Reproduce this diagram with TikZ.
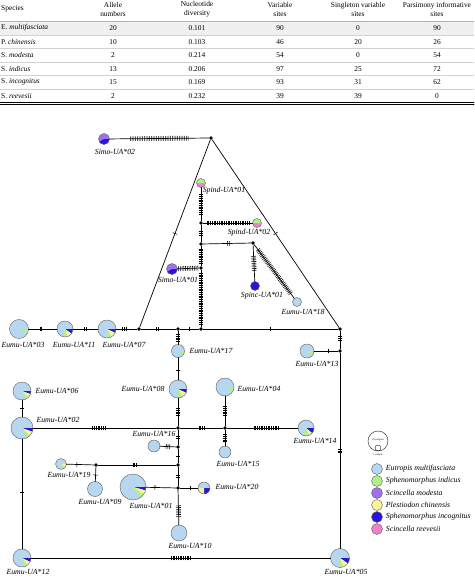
\documentclass[tikz,border=0pt]{standalone}
\usepackage{fontspec}
\setmainfont{Liberation Serif}
\usetikzlibrary{positioning}
\definecolor{eumu}{RGB}{183,214,240}
\definecolor{sind}{RGB}{178,240,138}
\definecolor{mode}{RGB}{160,112,240}
\definecolor{ples}{RGB}{250,245,150}
\definecolor{inco}{RGB}{40,22,220}
\definecolor{reev}{RGB}{240,130,200}
% row of mutation ticks
\newcommand{\tickrow}[1]{\rule[-2.4pt]{.55pt}{4.8pt}\ifnum#1>1 \foreach \k in {2,...,#1}{\hspace{1.2pt}\rule[-2.4pt]{.55pt}{4.8pt}}\fi}
% haplotype pie: name, centre, radius, slices
\newcommand{\hap}[4]{%
  \foreach \a/\b/\c in {#4}
    {\fill[\c] (#2) -- ++(\a:#3) arc[start angle=\a, end angle=\b, radius=#3] -- cycle;}
  \node[hapc, minimum size=2*#3] (#1) at (#2) {};
}
\begin{document}
\begin{tikzpicture}[x=1pt,y=-1pt,line cap=round,line join=round,
  ln/.style={line width=.7pt},
  jn/.style={circle,fill=black,inner sep=0,minimum size=3.8pt},
  hapc/.style={circle,draw=black!60,line width=.45pt,inner sep=0,outer sep=0},
  mt/.style={sloped,inner sep=0,outer sep=0,pos=.5},
  lab/.style={font=\fontsize{7.8}{9}\selectfont\itshape,inner sep=0},
  th/.style={font=\fontsize{7.4}{9}\selectfont,align=center,inner sep=0},
  td/.style={font=\fontsize{7.4}{9}\selectfont,inner sep=0},
  legc/.style={circle,draw=black!60,line width=.45pt,inner sep=0,minimum size=11pt},
  legt/.style={font=\fontsize{7.8}{9}\selectfont\itshape,inner sep=0}]
\useasboundingbox (0,0) rectangle (474,578);

% table
\fill[gray!12] (0,21) rectangle (474,35);
\draw[gray!60,line width=.3pt] (0,21) -- (474,21);
\foreach \y in {35,48.5,62,75.5,89}
  \draw[gray!35,line width=.3pt] (0,\y) -- (474,\y);
\draw[line width=.5pt] (0,102) -- (474,102);
\draw[line width=.5pt] (0,104.5) -- (474,104.5);
\node[th,anchor=west] (hsp) at (1,9) {Species};
\node[th] (hal) at (113,9.5) {Allele\\numbers};
\node[th] (hnd) at (197,9.5) {Nucleotide\\diversity};
\node[th] (hvs) at (280,9.5) {Variable\\sites};
\node[th] (hsv) at (358,9.5) {Singleton variable\\sites};
\node[th] (hpi) at (437,9.5) {Parsimony informative\\sites};
\foreach \ry/\rg/\rn/\ra/\rd/\rv/\rs/\rp [count=\i] in
  {28/E./multifasciata/20/0.101/90/0/90,
   42/P./chinensis/10/0.103/46/20/26,
   55/S./modesta/2/0.214/54/0/54,
   69/S./indicus/13/0.206/97/25/72,
   82/S./incognitus/15/0.169/93/31/62,
   96/S./reevesii/2/0.232/39/39/0}
{
  \node[td,anchor=west] (sp\i) at (1,\ry) {\rg~\textit{\rn}};
  \node[td] (al\i) at (113,\ry) {\ra};
  \node[td] (nd\i) at (197,\ry) {\rd};
  \node[td] (vs\i) at (280,\ry) {\rv};
  \node[td] (sv\i) at (358,\ry) {\rs};
  \node[td] (pi\i) at (437,\ry) {\rp};
}

% haplotypes
\hap{s02}{104,139}{5.5}{0/360/mode,0/150/inco}
\hap{sp1}{201,183}{4.5}{0/180/reev,180/360/sind}
\hap{sp2}{257,223}{4.5}{0/180/reev,180/360/sind}
\hap{spc}{255,286}{4.5}{0/360/inco}
\hap{e18}{297,302}{4.5}{0/360/eumu}
\hap{s01}{172,269}{5.5}{0/360/mode,0/150/inco}
\hap{e03}{19,329}{9.5}{0/360/eumu,0/30/sind}
\hap{e11}{65,329}{8}{0/360/eumu,0/35/inco,35/75/ples,75/105/sind}
\hap{e07}{107,329}{9}{0/360/eumu,0/25/inco,25/60/ples,60/90/sind}
\hap{e17}{178,351}{6.5}{0/360/eumu,0/40/sind}
\hap{e08}{178,389}{9}{0/360/eumu,0/25/inco,25/60/ples,60/95/sind}
\hap{e06}{22,391}{9}{0/360/eumu,0/20/inco,20/45/ples,45/70/sind}
\hap{e02}{22,428}{11}{0/360/eumu,0/20/inco,20/45/ples,45/65/sind}
\hap{e04}{225,387}{9}{0/360/eumu,0/30/sind}
\hap{e16}{154,446}{6}{0/360/eumu}
\hap{e15}{225,452}{6}{0/360/eumu}
\hap{e14}{306,428}{8}{0/360/eumu,0/40/inco,40/70/ples,70/110/sind}
\hap{e13}{307,351}{7}{0/360/eumu,0/40/sind}
\hap{e19}{61,464}{5.5}{0/360/eumu,0/40/ples,40/70/sind}
\hap{e09}{95,489}{7.5}{0/360/eumu}
\hap{e01}{133,487}{13}{0/360/eumu,0/15/inco,15/35/ples,35/55/sind}
\hap{e20}{204,488}{6}{0/360/eumu,0/90/inco,90/180/ples}
\hap{e10}{179,533}{8}{0/360/eumu}
\hap{e12}{22,558}{9}{0/360/eumu,0/25/inco,25/55/ples,55/80/sind}
\hap{e05}{340,558}{9.5}{0/360/eumu,0/35/inco,35/70/ples,70/100/sind}

% median vectors
\node[jn] (t1) at (211,138) {};
\node[jn] (j1) at (201,223) {};
\node[jn] (j2) at (201,244) {};
\node[jn] (j3) at (253,243) {};
\node[jn] (j4) at (201,268) {};
\node[jn] (j5) at (201,329) {};
\node[jn] (j7) at (139,329) {};
\node[jn] (j8) at (178,329) {};
\node[jn] (r1) at (340,329) {};
\node[jn] (j15) at (340,351) {};
\node[jn] (j9) at (178,428) {};
\node[jn] (j10) at (225,428) {};
\node[jn] (j11) at (178,447) {};
\node[jn] (j12) at (178,465) {};
\node[jn] (j13) at (96,465) {};
\node[jn] (j14) at (178,488) {};

% links
\draw[ln] (s02) -- node[mt]{\tickrow{34}} (t1);
\draw[ln] (t1) -- node[mt]{\tickrow{1}} (j7);
\draw[ln] (t1) -- node[mt]{\tickrow{1}} (r1);
\draw[ln] (sp1) -- node[mt]{\tickrow{12}} (j1);
\draw[ln] (j1) -- node[mt]{\tickrow{25}} (sp2);
\draw[ln] (j1) -- node[mt]{\tickrow{3}} (j2);
\draw[ln] (j2) -- node[mt,pos=.53]{\tickrow{2}} (j3);
\draw[ln] (j3) -- node[mt]{\tickrow{9}} (spc);
\draw[ln] (j3) -- node[mt]{\tickrow{32}} (e18);
\draw[ln] (j2) -- node[mt]{\tickrow{9}} (j4);
\draw[ln] (s01) -- node[mt]{\tickrow{12}} (j4);
\draw[ln] (j4) -- node[mt]{\tickrow{30}} (j5);
\draw[ln] (e03) -- node[mt,pos=.43]{\tickrow{2}} (e11);
\draw[ln] (e11) -- node[mt,pos=.48]{\tickrow{2}} (e07);
\draw[ln] (e07) -- node[mt,pos=.4]{\tickrow{3}} (j7);
\draw[ln] (j7) -- node[mt,pos=.46]{\tickrow{2}} (j8);
\draw[ln] (j8) -- node[mt]{\tickrow{1}} (j5);
\draw[ln] (j5) -- node[mt]{\tickrow{1}} (r1);
\draw[ln] (j8) -- node[mt]{\tickrow{5}} (e17);
\draw[ln] (e17) -- node[mt,pos=.55]{\tickrow{1}} (e08);
\draw[ln] (e08) -- node[mt]{\tickrow{5}} (j9);
\draw[ln] (j9) -- node[mt,pos=.54]{\tickrow{8}} (e02);
\draw[ln] (e06) -- node[mt]{\tickrow{1}} (e02);
\draw[ln] (j9) -- node[mt]{\tickrow{4}} (j10);
\draw[ln] (j10) -- node[mt]{\tickrow{6}} (e04);
\draw[ln] (j10) -- node[mt]{\tickrow{5}} (e15);
\draw[ln] (j10) -- node[mt,pos=.55]{\tickrow{15}} (e14);
\draw[ln] (j9) -- node[mt]{\tickrow{2}} (j11);
\draw[ln] (e16) -- node[mt]{\tickrow{3}} (j11);
\draw[ln] (j11) -- node[mt]{\tickrow{1}} (j12);
\draw[ln] (j12) -- node[mt,pos=.53]{\tickrow{3}} (j13);
\draw[ln] (j13) -- node[mt,pos=.62]{\tickrow{1}} (e19);
\draw[ln] (j13) -- node[mt,pos=.55]{\tickrow{1}} (e09);
\draw[ln] (j12) -- node[mt]{\tickrow{2}} (j14);
\draw[ln] (j14) -- node[mt,pos=.7]{\tickrow{1}} (e01);
\draw[ln] (j14) -- node[mt,pos=.55]{\tickrow{1}} (e20);
\draw[ln] (j14) -- node[mt,pos=.6]{\tickrow{7}} (e10);
\draw[ln] (e02) -- node[mt,pos=.48]{\tickrow{1}} (e12);
\draw[ln] (e12) -- node[mt]{\tickrow{12}} (e05);
\draw[ln] (r1) -- node[mt,pos=.4]{\tickrow{3}} (j15);
\draw[ln] (j15) -- node[mt,pos=.4]{\tickrow{1}} (e13);
\draw[ln] (j15) -- node[mt]{\tickrow{3}} (e05);

% haplotype names
\node[lab] (ls02) at (115,152) {Simo-UA*02};
\node[lab] (lsp1) at (224,191) {Spind-UA*01};
\node[lab] (lsp2) at (249,233) {Spind-UA*02};
\node[lab] (lspc) at (262,296) {Spinc-UA*01};
\node[lab] (le18) at (303,312) {Eumu-UA*18};
\node[lab] (ls01) at (178,280) {Simo-UA*01};
\node[lab] (le03) at (23,345) {Eumu-UA*03};
\node[lab] (le11) at (74,345) {Eumu-UA*11};
\node[lab] (le07) at (124,345) {Eumu-UA*07};
\node[lab] (le17) at (211,351) {Eumu-UA*17};
\node[lab] (le08) at (143,389) {Eumu-UA*08};
\node[lab] (le06) at (57,391) {Eumu-UA*06};
\node[lab] (le02) at (58,420) {Eumu-UA*02};
\node[lab] (le04) at (259,389) {Eumu-UA*04};
\node[lab] (le16) at (154,434) {Eumu-UA*16};
\node[lab] (le15) at (238,464) {Eumu-UA*15};
\node[lab] (le14) at (315,441) {Eumu-UA*14};
\node[lab] (le13) at (317,364) {Eumu-UA*13};
\node[lab] (le19) at (69,475) {Eumu-UA*19};
\node[lab] (le09) at (100,502) {Eumu-UA*09};
\node[lab] (le01) at (151,506) {Eumu-UA*01};
\node[lab] (le20) at (237,487) {Eumu-UA*20};
\node[lab] (le10) at (190,546) {Eumu-UA*10};
\node[lab] (le12) at (28,572) {Eumu-UA*12};
\node[lab] (le05) at (346,572) {Eumu-UA*05};

% scale
\node[circle,draw,line width=.35pt,inner sep=0,minimum size=20pt] (sc10) at (378,441) {};
\node[circle,draw,line width=.35pt,inner sep=0,minimum size=6pt] (sc1) at (378,448) {};
\node[font=\fontsize{2.6}{3}\selectfont,inner sep=0] (sc10t) at (378,439.5) {10 samples};
\node[font=\fontsize{2.6}{3}\selectfont,inner sep=0] (sc1t) at (378,454.5) {1 sample};

% legend
\foreach \col/\txt [count=\i] in {eumu/Eutropis multifasciata,sind/Sphenomorphus indicus,
  mode/Scincella modesta,ples/Plestiodon chinensis,inco/Sphenomorphus incognitus,reev/Scincella reevesii}
{
  \node[legc,fill=\col] (lg\i) at (377,457+12*\i) {};
  \node[legt,right=3pt of lg\i] (lt\i) {\txt};
}
\end{tikzpicture}
\end{document}
